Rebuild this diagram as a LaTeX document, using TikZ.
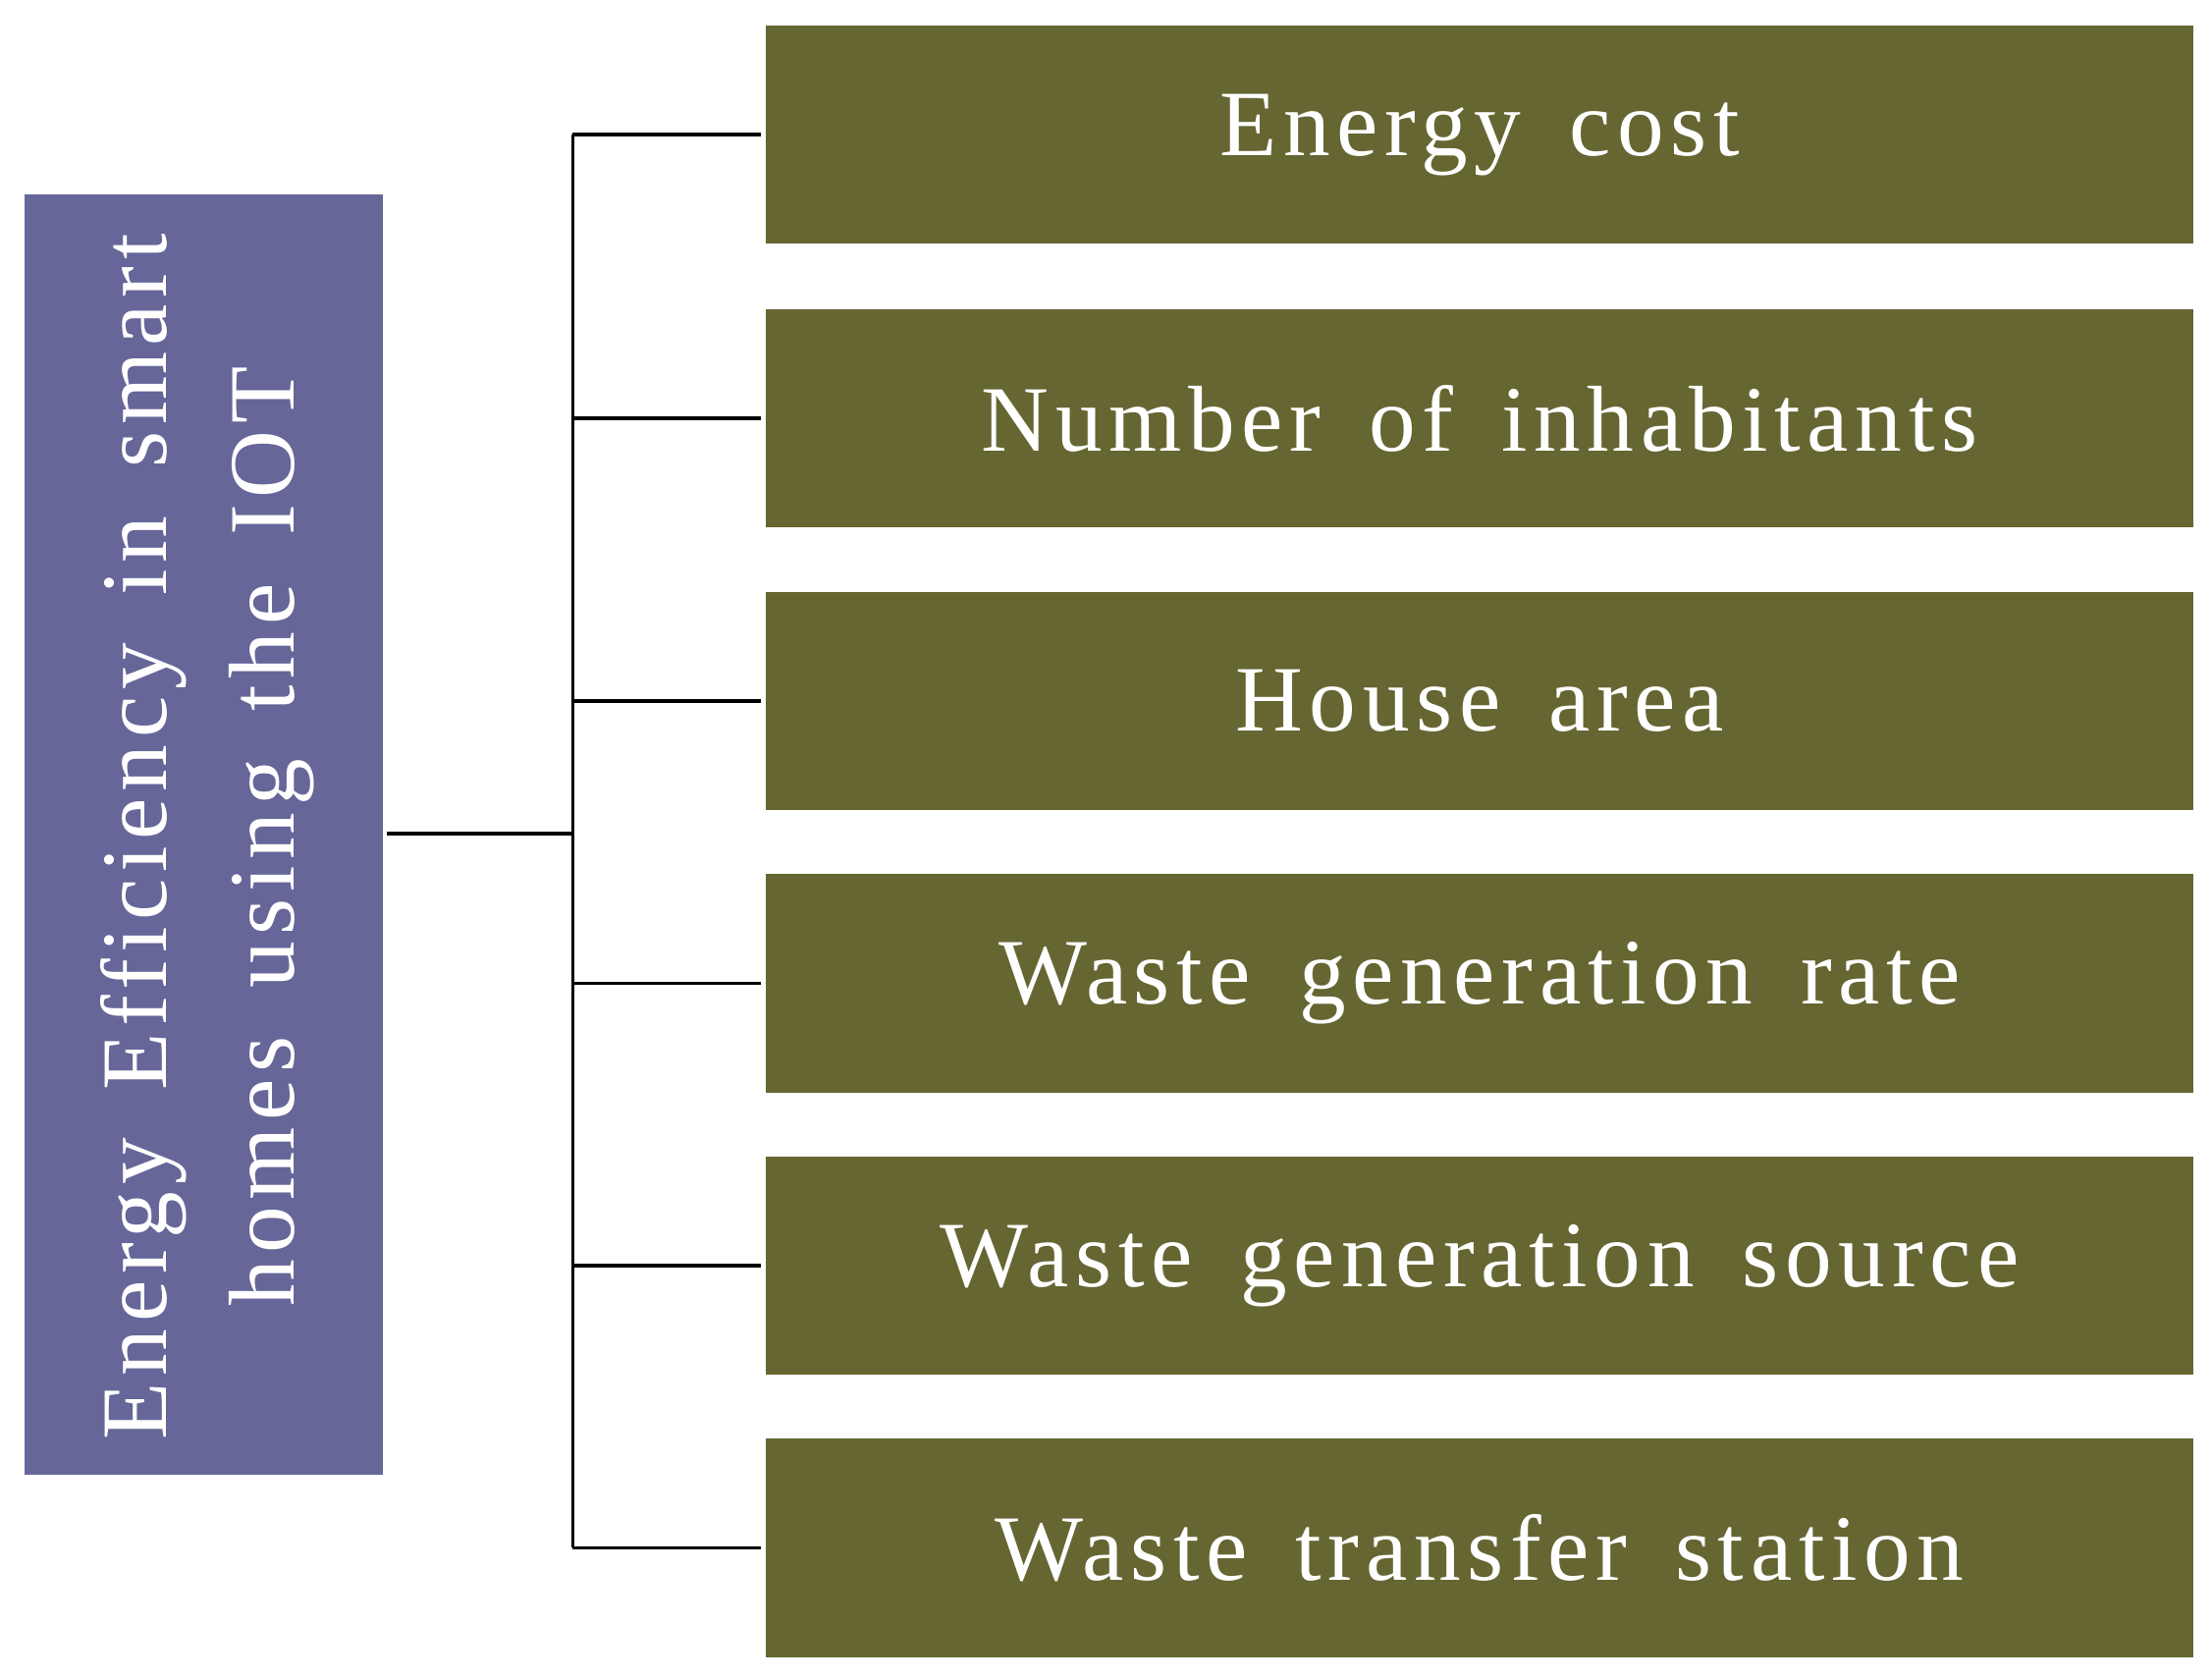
\documentclass[tikz,border=0pt]{standalone}
\usepackage{fontspec}
\setmainfont{Liberation Serif}
\newfontfamily\wideserif[LetterSpace=7,WordSpace=1.6]{Liberation Serif}
\definecolor{olivebox}{HTML}{666633}
\definecolor{purplebox}{HTML}{666699}
\begin{document}
\begin{tikzpicture}[x=0.5pt,y=-0.5pt,
  item/.style={draw=none,fill=olivebox,text=white,minimum width=503.5pt,minimum height=77pt,inner sep=0pt,font=\wideserif\fontsize{33}{38}\selectfont},
  conn/.style={draw=black,line width=1.2pt}]
\useasboundingbox (0,0) rectangle (1560,1183);
\node[fill=purplebox,minimum width=126.5pt,minimum height=451.5pt,inner sep=0pt] (main) at (143.5,588.5) {};
\node[rotate=90,text=white,align=center,font=\wideserif\fontsize{33}{45}\selectfont] (mt) at (146,590) {Energy Efficiency in smart\\homes using the IOT};
\foreach \n/\y/\t in {a/95/Energy cost,b/295/Number of inhabitants,c/494.5/House area,d/693.5/Waste generation rate,e/892.5/Waste generation source,f/1091.5/Waste transfer station}{
  \node[item] (\n) at (1043.5,\y) {\t};
}
\coordinate (j) at (404,588);
\draw[conn] (273,588) -- (j);
\draw[conn] (404,95) -- (404,1091.5);
\foreach \n in {a,b,c,d,e,f}{\draw[conn] (\n.west) ++(-3,0) -| (404,0|-\n.west);}
\end{tikzpicture}
\end{document}
